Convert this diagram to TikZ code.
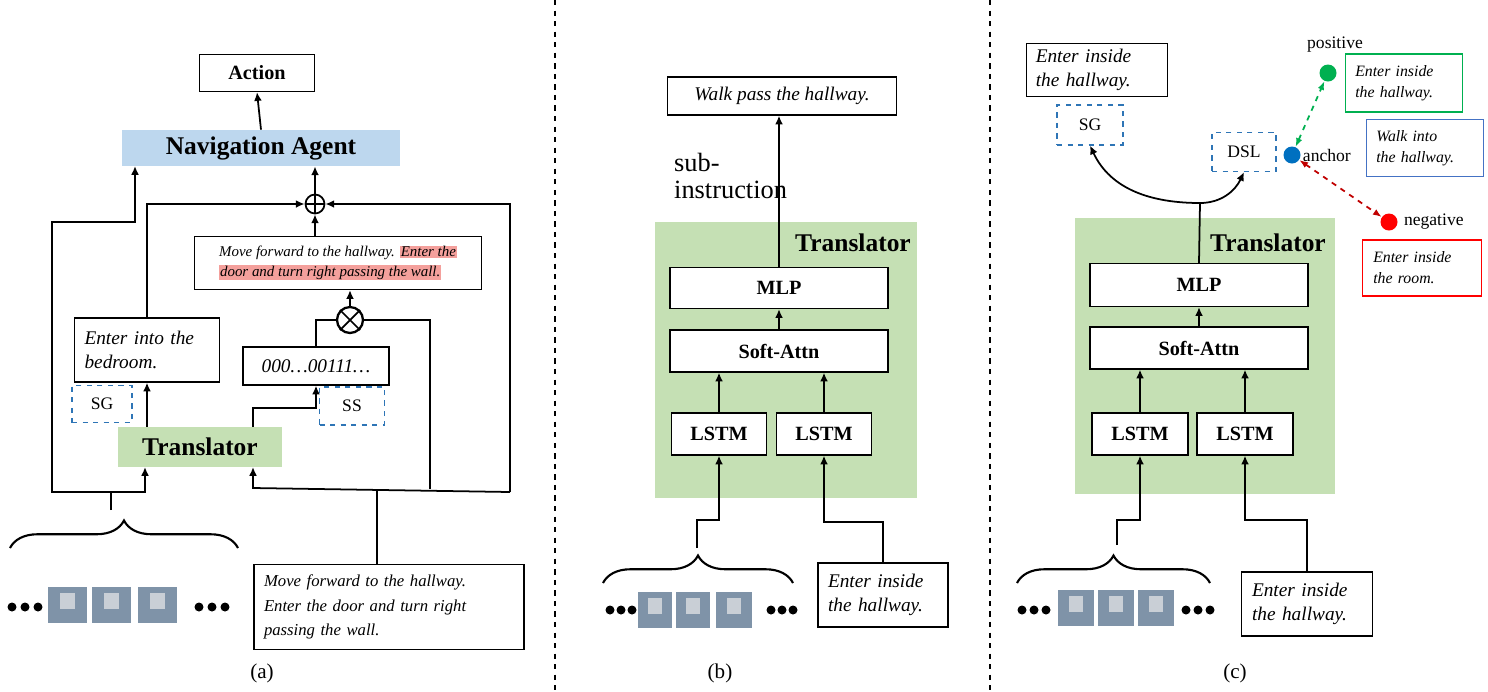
\documentclass[tikz,border=0pt]{standalone}
\usepackage{fontspec}
\setmainfont{Liberation Serif}
\usetikzlibrary{arrows.meta,decorations.pathreplacing}
\definecolor{agentblue}{HTML}{BDD7EE}
\definecolor{transgreen}{HTML}{C5E0B4}
\definecolor{dashblue}{HTML}{2E75B6}
\definecolor{hl}{HTML}{F4A09C}
\definecolor{img}{HTML}{7F93A8}
\definecolor{imglight}{HTML}{C9CFD6}
\definecolor{posgreen}{HTML}{00B050}
\definecolor{ancblue}{HTML}{0070C0}
\definecolor{ancbox}{HTML}{4472C4}
\definecolor{negred}{HTML}{FF0000}
\definecolor{negline}{HTML}{C00000}

\begin{document}
\begin{tikzpicture}[x=0.02cm, y=-0.02cm,
    box/.style={draw, fill=white, inner sep=0pt, line width=0.7pt},
    dbox/.style={draw=dashblue, dashed, inner sep=0pt, line width=0.6pt, font=\fontsize{10}{12}\selectfont},
    flow/.style={-{Latex[length=5pt,width=4.5pt]}, line width=1pt},
    line/.style={line width=1pt},
    it/.style={font=\fontsize{11}{14}\selectfont\itshape},
    bf/.style={font=\fontsize{11.5}{13}\selectfont\bfseries},
    big/.style={font=\fontsize{14.5}{16}\selectfont\bfseries},
    dot/.style={circle, inner sep=0pt, minimum size=0.34cm},
    brace/.style={decorate, decoration={brace, amplitude=0.55cm}, line width=1.2pt}]
    \useasboundingbox (0,0) rectangle (1488,691);

    % separators
    \draw[dashed, line width=0.9pt] (555,0) -- (555,691);
    \draw[dashed, line width=0.9pt] (990,0) -- (990,691);

    % panel (a)
    \node at (257,73) (action) [box, minimum width=2.3cm, minimum height=0.74cm, bf] {Action};
    \node at (261,148) (agent) [fill=agentblue, minimum width=5.56cm, minimum height=0.72cm, big] {Navigation Agent};
    \node at (315,204) (plus) [circle, draw, line width=1pt, fill=white, inner sep=0pt, minimum size=0.38cm] {};
    \draw[line width=0.8pt] (plus.north) -- (plus.south) (plus.west) -- (plus.east);
    \node at (338,263) (hint) [box, minimum width=5.74cm, minimum height=1.06cm, align=left,
        font=\fontsize{8.5}{11}\selectfont\itshape] {Move forward to the hallway. \fboxsep=0.5pt\colorbox{hl}{Enter the}\\\fboxsep=0.5pt\colorbox{hl}{door and turn right passing the wall.}};
    \node at (350,320) (times) [circle, draw, line width=1.3pt, fill=white, inner sep=0pt, minimum size=0.52cm] {};
    \draw[line width=1pt] (times.north east) -- (times.south west) (times.north west) -- (times.south east);
    \node at (147,350) (bedroom) [box, minimum width=2.9cm, minimum height=1.28cm, text width=2.5cm, align=left, it] {Enter into the\\bedroom.};
    \node at (102,404) (sga) [dbox, minimum width=1.2cm, minimum height=0.74cm] {SG};
    \node at (316,366) (mask) [box, minimum width=2.92cm, minimum height=0.76cm, it] {000\ldots00111\ldots};
    \node at (352,406) (ss) [dbox, minimum width=1.3cm, minimum height=0.76cm] {SS};
    \node at (200,447) (transa) [fill=transgreen, minimum width=3.28cm, minimum height=0.8cm, big] {Translator};
    \node at (389,607) (insta) [box, minimum width=5.4cm, minimum height=1.7cm, text width=5.0cm, align=left,
        font=\fontsize{9.5}{14}\selectfont\itshape] {Move forward to the hallway.\\Enter the door and turn right\\passing the wall.};

    \draw[flow] (agent.north) -- (action.south);
    \draw[flow] (plus.north) -- (plus.north |- agent.south);
    \draw[flow] (plus.south |- hint.north) -- (plus.south);
    \draw[flow] (bedroom.north) |- (plus.west);
    \draw[flow] (510,492) |- (plus.east);
    \draw[flow] (times.north) -- (times.north |- hint.south);
    \draw[line] (mask.north) |- (times.west);
    \draw[line] (times.east) -| (430,489);
    \draw[flow] (bedroom.south |- transa.north) -- (bedroom.south);
    \draw[flow] (253,427) -- (253,408) -| (mask.south);
    \draw[flow] (111,510) -- (111,492) -| (52,222) -| (135,166);
    \draw[flow] (52,492) -| (145,467);
    \draw[flow] (510,492) -- (253,488) -- (253,467);
    \coordinate (ja) at (377,490);
    \draw[line] (insta.north -| ja) -- (ja);
    \draw[brace] (10,548) -- (238,548);

    % panel (b)
    \node at (782,96) (goalb) [box, minimum width=4.58cm, minimum height=0.76cm, it] {Walk pass the hallway.};
    \node at (668,176) (subl) [anchor=west, align=left, font=\fontsize{15}{15}\selectfont] {sub-\\instruction};
    \node at (786,360) (transb) [fill=transgreen, minimum width=5.24cm, minimum height=5.52cm] {};
    \node at (853,243) (transbl) [big] {Translator};
    \node at (779,288) (mlpb) [box, minimum width=4.36cm, minimum height=0.82cm, bf] {MLP};
    \node at (779,351) (attnb) [box, minimum width=4.36cm, minimum height=0.84cm, bf] {Soft-Attn};
    \node at (719,434) (lstmb1) [box, minimum width=1.9cm, minimum height=0.84cm, bf] {LSTM};
    \node at (824,434) (lstmb2) [box, minimum width=1.9cm, minimum height=0.84cm, bf] {LSTM};
    \node at (883,595) (instb) [box, minimum width=2.6cm, minimum height=1.28cm, text width=2.2cm, align=left, it] {Enter inside\\the hallway.};

    \draw[flow] (mlpb.north) -- (mlpb.north |- goalb.south);
    \draw[flow] (attnb.north) -- (mlpb.south);
    \draw[flow] (lstmb1.north) -- (lstmb1.north |- attnb.south);
    \draw[flow] (lstmb2.north) -- (lstmb2.north |- attnb.south);
    \draw[flow] (697,548) |- (719,520) -- (lstmb1.south);
    \draw[flow] (instb.north) |- (824,522) -- (lstmb2.south);
    \draw[brace] (603,583) -- (793,583);

    % panel (c)
    \node at (1097,70) (goalc) [box, minimum width=2.82cm, minimum height=1.06cm, text width=2.45cm, align=left, it] {Enter inside\\the hallway.};
    \node at (1090,125) (sgc) [dbox, minimum width=1.32cm, minimum height=0.8cm] {SG};
    \node at (1244,152) (dsl) [dbox, minimum width=1.28cm, minimum height=0.78cm] {DSL};
    \node at (1205,356) (transc) [fill=transgreen, minimum width=5.2cm, minimum height=5.54cm] {};
    \node at (1268,243) (transcl) [big] {Translator};
    \node at (1199,285) (mlpc) [box, minimum width=4.36cm, minimum height=0.86cm, bf] {MLP};
    \node at (1199,348) (attnc) [box, minimum width=4.36cm, minimum height=0.84cm, bf] {Soft-Attn};
    \node at (1140,434) (lstmc1) [box, minimum width=1.92cm, minimum height=0.84cm, bf] {LSTM};
    \node at (1245,434) (lstmc2) [box, minimum width=1.92cm, minimum height=0.84cm, bf] {LSTM};
    \node at (1307,604) (instc) [box, minimum width=2.62cm, minimum height=1.28cm, text width=2.2cm, align=left, it] {Enter inside\\the hallway.};

    \coordinate (fork) at (1200,203);
    \draw[line] (mlpc.north) -- (fork);
    \draw[flow] (fork) to[out=180, in=-65] (sgc.south);
    \draw[flow] (fork) to[out=0, in=-115] (dsl.south);
    \draw[flow] (attnc.north) -- (mlpc.south);
    \draw[flow] (lstmc1.north) -- (lstmc1.north |- attnc.south);
    \draw[flow] (lstmc2.north) -- (lstmc2.north |- attnc.south);
    \draw[flow] (1117,545) |- (1140,520) -- (lstmc1.south);
    \draw[flow] (instc.north) |- (1245,520) -- (lstmc2.south);
    \draw[brace] (1017,583) -- (1210,583);

    \node at (1292,155) (anchor) [dot, fill=ancblue, label={[font=\fontsize{10}{12}\selectfont, inner sep=1pt]right:anchor}] {};
    \node at (1328,73) (positive) [dot, fill=posgreen] {};
    \node at (1335,45) (posl) [font=\fontsize{10}{12}\selectfont] {positive};
    \node at (1389,222) (negative) [dot, fill=negred, label={[font=\fontsize{10}{12}\selectfont]right:negative}] {};
    \node at (1404,83) (posbox) [draw=posgreen, line width=0.8pt, minimum width=2.34cm, minimum height=1.16cm, text width=1.95cm, align=left,
        font=\fontsize{9}{12}\selectfont\itshape] {Enter inside\\the hallway.};
    \node at (1425,148) (ancbox) [draw=ancbox, line width=0.8pt, minimum width=2.34cm, minimum height=1.14cm, text width=1.95cm, align=left,
        font=\fontsize{9}{12}\selectfont\itshape] {Walk into\\the hallway.};
    \node at (1422,268) (negbox) [draw=negred, line width=0.8pt, minimum width=2.38cm, minimum height=1.12cm, text width=1.95cm, align=left,
        font=\fontsize{9}{12}\selectfont\itshape] {Enter inside\\the room.};
    \draw[posgreen, dashed, line width=1pt, {Latex[length=5pt]}-{Latex[length=5pt]}] (anchor) -- (positive);
    \draw[negline, dashed, line width=1pt, {Latex[length=5pt]}-{Latex[length=5pt]}] (anchor) -- (negative);

    % observation strips
    \foreach \x/\y in {12/607, 25/607, 38/607, 199/607, 212/607, 225/607,
                       610/610, 621/610, 632/610, 771/610, 782/610, 793/610,
                       1022/610, 1034/610, 1046/610, 1186/610, 1198/610, 1210/610}
        \fill (\x,\y) circle (4.5);
    \foreach \x/\y/\w in {48/587/39, 92/587/39, 138/587/39,
                          638/592/34, 676/592/34, 716/592/36,
                          1058/590/36, 1098/590/36, 1138/590/36} {
        \fill[img] (\x,\y) rectangle ++(\w,36);
        \fill[imglight] (\x+0.3*\w,\y+6) rectangle ++(0.4*\w,16);
    }

    \node at (262,673) (capa) [font=\fontsize{12}{14}\selectfont] {(a)};
    \node at (720,673) (capb) [font=\fontsize{12}{14}\selectfont] {(b)};
    \node at (1235,673) (capc) [font=\fontsize{12}{14}\selectfont] {(c)};
\end{tikzpicture}
\end{document}
